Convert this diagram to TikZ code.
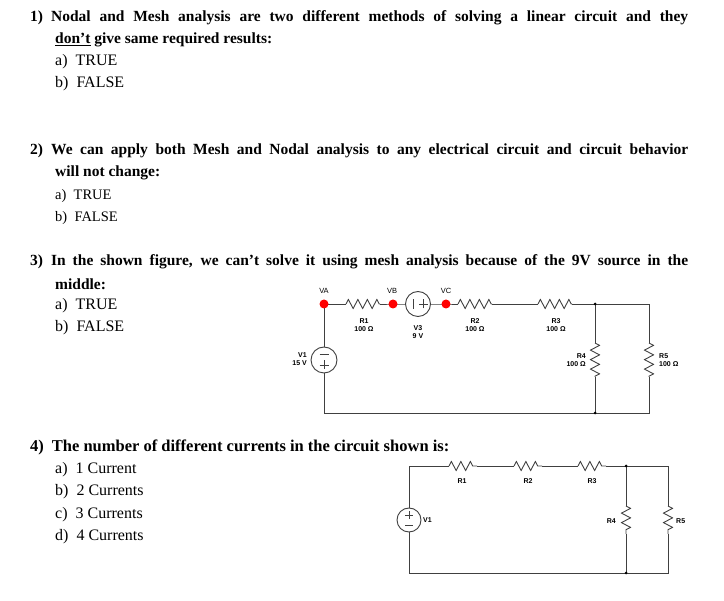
\documentclass[tikz,border=0pt]{standalone}
\usepackage{fontspec}
\setmainfont{Liberation Serif}
\newfontfamily\arialf{Liberation Sans}
\usetikzlibrary{decorations.pathmorphing}
\begin{document}
\begin{tikzpicture}[x=1pt,y=-1pt,
  q/.style={anchor=west,inner sep=0pt,font=\fontsize{15.5}{16}\selectfont\bfseries},
  ans/.style={anchor=west,inner sep=0pt,font=\fontsize{16}{17}\selectfont},
  wire/.style={line width=0.9pt,black!75},
  res/.style={wire,decorate,decoration={zigzag,segment length=9.5pt,amplitude=4.5pt}},
  lab/.style={inner sep=0pt,font=\arialf\bfseries\fontsize{7}{8}\selectfont,align=center},
  vlab/.style={inner sep=0pt,font=\arialf\fontsize{7.5}{8}\selectfont},
  dot/.style={circle,fill=red,inner sep=0pt,minimum size=9pt},
  src/.style={circle,draw=black!75,line width=0.9pt,inner sep=0pt,fill=white}]
\useasboundingbox (0,0) rectangle (724,601);
% questions
\node[q] (q1) at (30,18) {\makebox[658pt][s]{1)\hspace*{8pt}Nodal and Mesh analysis are two different methods of solving a linear circuit and they}};
\node[q] (q1b) at (55,40) {\underline{don't} give same required results:};
\node[ans] (a1) at (55,62) {a)\ \ TRUE};
\node[ans] (b1) at (55,84) {b)\ \ FALSE};
\node[q] (q2) at (30,151) {\makebox[658pt][s]{2)\hspace*{8pt}We can apply both Mesh and Nodal analysis to any electrical circuit and circuit behavior}};
\node[q] (q2b) at (55,173) {will not change:};
\node[ans,font=\fontsize{14.5}{15}\selectfont] (a2) at (55,196) {a)\ \ TRUE};
\node[ans,font=\fontsize{14.5}{15}\selectfont] (b2) at (55,218) {b)\ \ FALSE};
\node[q] (q3) at (30,262) {\makebox[658pt][s]{3)\hspace*{8pt}In the shown figure, we can't solve it using mesh analysis because of the 9V source in the}};
\node[q] (q3b) at (55,284) {middle:};
\node[ans] (a3) at (55,306) {a)\ \ TRUE};
\node[ans] (b3) at (55,328) {b)\ \ FALSE};
\node[q,font=\fontsize{16.5}{17}\selectfont\bfseries] (q4) at (30,447) {4)\hspace*{8pt}The number of different currents in the circuit shown is:};
\node[ans] (a4) at (55,470) {a)\ \ 1 Current};
\node[ans] (b4) at (55,492) {b)\ \ 2 Currents};
\node[ans] (c4) at (55,515) {c)\ \ 3 Currents};
\node[ans] (d4) at (55,537) {d)\ \ 4 Currents};
% circuit 1
\coordinate (A) at (324,304); \coordinate (r1a) at (346,304); \coordinate (r1b) at (380,304);
\coordinate (B) at (393,304); \coordinate (C) at (446,304);
\coordinate (r2a) at (458,304); \coordinate (r2b) at (492,304);
\coordinate (r3a) at (538,304); \coordinate (r3b) at (572,304);
\coordinate (J) at (595,304); \coordinate (R) at (649,304);
\coordinate (r4a) at (595,343); \coordinate (r4b) at (595,377);
\coordinate (r5a) at (649,343); \coordinate (r5b) at (649,377);
\coordinate (JB) at (595,413); \coordinate (RB) at (649,413); \coordinate (AB) at (324,413);
\draw[wire] (A) -- (r1a) (r1b) -- (B) -- (C) -- (r2a) (r2b) -- (r3a) (r3b) -- (R) -- (r5a) (r5b) -- (RB) -- (AB) -- (A);
\draw[wire] (J) -- (r4a) (r4b) -- (JB);
\draw[res] (r1a) -- (r1b); \draw[res] (r2a) -- (r2b); \draw[res] (r3a) -- (r3b);
\draw[res] (r4a) -- (r4b); \draw[res] (r5a) -- (r5b);
\fill (J) circle (1.5pt); \fill (JB) circle (1.5pt);
\node[src,minimum size=25pt] (V3) at (418,304) {};
\draw[wire] ([xshift=-5pt,yshift=-5pt]V3.center) -- ([xshift=-5pt,yshift=5pt]V3.center);
\draw[wire] ([xshift=1pt]V3.center) -- ([xshift=10pt]V3.center) ([xshift=5.5pt,yshift=-4.5pt]V3.center) -- ([xshift=5.5pt,yshift=4.5pt]V3.center);
\node[src,minimum size=26pt] (V1) at (324,360) {};
\draw[wire] ([xshift=-4.5pt,yshift=6pt]V1.center) -- ([xshift=4.5pt,yshift=6pt]V1.center);
\draw[wire] ([xshift=-4.5pt,yshift=-5pt]V1.center) -- ([xshift=4.5pt,yshift=-5pt]V1.center) ([yshift=-0.5pt]V1.center) -- ([yshift=-9.5pt]V1.center);
\node[dot] (dA) at (A) {}; \node[dot] (dB) at (B) {}; \node[dot] (dC) at (C) {};
\node[vlab] (lA) at (324,291) {VA}; \node[vlab] (lB) at (392,291) {VB}; \node[vlab] (lC) at (446,291) {VC};
\node[lab] (l1) at (364,325) {R1\\100 Ω};
\node[lab] (l3) at (418,332) {V3\\9 V};
\node[lab] (l2) at (475,325) {R2\\100 Ω};
\node[lab] (l3r) at (556,325) {R3\\100 Ω};
\node[lab,anchor=east,align=right] (l4) at (586,360) {R4\\100 Ω};
\node[lab,anchor=west,align=left] (l5) at (659,360) {R5\\100 Ω};
\node[lab,anchor=east,align=right] (lv1) at (307,359) {V1\\15 V};
% circuit 2
\coordinate (TL) at (409,466); \coordinate (BL) at (409,573);
\coordinate (s1a) at (449,466); \coordinate (s1b) at (477,466);
\coordinate (s2a) at (514,466); \coordinate (s2b) at (542,466);
\coordinate (s3a) at (578,466); \coordinate (s3b) at (606,466);
\coordinate (K) at (626,466); \coordinate (KR) at (668,466);
\coordinate (s4a) at (626,506); \coordinate (s4b) at (626,534);
\coordinate (s5a) at (668,506); \coordinate (s5b) at (668,534);
\coordinate (KB) at (626,573); \coordinate (KRB) at (668,573);
\draw[wire] (BL) -- (TL) -- (s1a) (s1b) -- (s2a) (s2b) -- (s3a) (s3b) -- (KR) -- (s5a) (s5b) -- (KRB) -- (BL);
\draw[wire] (K) -- (s4a) (s4b) -- (KB);
\draw[res] (s1a) -- (s1b); \draw[res] (s2a) -- (s2b); \draw[res] (s3a) -- (s3b);
\draw[res] (s4a) -- (s4b); \draw[res] (s5a) -- (s5b);
\fill (K) circle (1.5pt); \fill (KB) circle (1.5pt);
\node[src,minimum size=24pt] (W1) at (409,520) {};
\draw[wire] ([xshift=-4pt,yshift=5pt]W1.center) -- ([xshift=4pt,yshift=5pt]W1.center) ([yshift=9pt]W1.center) -- ([yshift=1pt]W1.center);
\draw[wire] ([xshift=-4pt,yshift=-5pt]W1.center) -- ([xshift=4pt,yshift=-5pt]W1.center);
\node[lab,anchor=west] (m1) at (423,520) {V1};
\node[lab] (n1) at (462,481) {R1}; \node[lab] (n2) at (528,481) {R2}; \node[lab] (n3) at (592,481) {R3};
\node[lab,anchor=east] (n4) at (616,521) {R4}; \node[lab,anchor=west] (n5) at (676,521) {R5};
\end{tikzpicture}
\end{document}
